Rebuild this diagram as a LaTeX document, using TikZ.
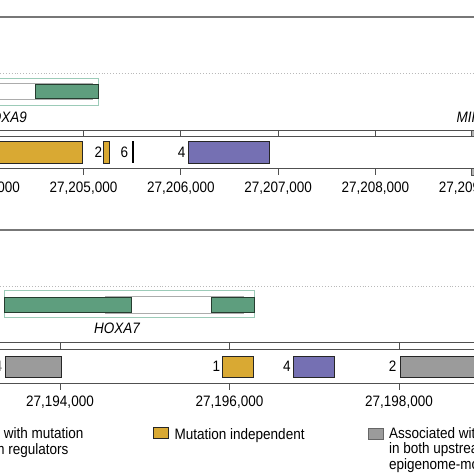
\documentclass[tikz,border=0pt]{standalone}
\usepackage{graphicx}
\usepackage{fontspec}
\setmainfont{Liberation Sans}
\newcommand{\vstretch}[1]{\scalebox{1}[1.12]{#1}}
\definecolor{gfill}{HTML}{5E9E7E}
\definecolor{gline}{HTML}{263D30}
\definecolor{gouter}{HTML}{9CCBB8}
\definecolor{yfill}{HTML}{D9A933}
\definecolor{pfill}{HTML}{7570B3}
\definecolor{grfill}{HTML}{9B9B9B}
\definecolor{trk}{HTML}{505050}
\definecolor{frame}{HTML}{777777}
\begin{document}
\begin{tikzpicture}[x=1pt,y=-1pt,
  lbl/.style={font=\fontsize{13.5}{16}\selectfont, inner sep=0pt, text=black},
  ilbl/.style={lbl, font=\fontsize{13.5}{16}\selectfont\itshape},
  boxed/.style={draw=black!85, line width=0.9pt},
  trackline/.style={draw=trk, line width=0.9pt},
  tickline/.style={draw=trk, line width=0.9pt},
  frameline/.style={draw=frame, line width=1.3pt},
  dotline/.style={draw=gray!55, dotted, line width=0.9pt},
  geneouter/.style={draw=gouter, line width=0.9pt},
  utr/.style={draw=gray!65, fill=white, line width=0.9pt},
  exon/.style={draw=gline, fill=gfill, line width=0.9pt}]
\useasboundingbox (0,0) rectangle (474,474);
\clip (0,0) rectangle (474,474);

% ---------- top panel ----------
\draw[frameline] (0,17) -- (474,17);
\draw[frameline] (0,230) -- (474,230);
\draw[dotline] (0,73) -- (474,73);

% HOXA9 gene
\draw[geneouter] (-5,78) rectangle (98.5,105);
\draw[utr] (-5,83.5) rectangle (92,99.5);
\draw[exon] (35,84.5) rectangle (98,98.5);
\node[ilbl, anchor=base east] (hoxa9) at (27,122) {\vstretch{HOXA9}};
\node[ilbl, anchor=base west] (mir) at (456.5,122) {\vstretch{MIR196B}};

% track
\draw[trackline] (-2,130) -- (476,130);
\draw[trackline] (-2,136) -- (476,136);
\draw[trackline] (-2,168.5) -- (476,168.5);
\foreach \x/\t in {-14/27{,}204{,}000, 83.5/27{,}205{,}000, 180.8/27{,}206{,}000, 278.1/27{,}207{,}000, 375.4/27{,}208{,}000, 472.7/27{,}209{,}000}{
  \draw[tickline] (\x,130) -- (\x,136);
  \draw[tickline] (\x,168.5) -- (\x,175);
  \node[lbl, anchor=base] at (\x,192.5) {\vstretch{\t}};
}
\draw[draw=trk, fill=gray!60, line width=0.6pt] (471,130) rectangle (477,136);
\draw[draw=trk, fill=gray!60, line width=0.6pt] (471,168.5) rectangle (477,175);

\draw[boxed, fill=yfill] (-5,141) rectangle (82,163);
\node[lbl] (t2) at (98.3,152) {\vstretch{2}};
\draw[boxed, fill=yfill] (103,141) rectangle (109,163);
\node[lbl] (t6) at (124.4,152) {\vstretch{6}};
\draw[black, line width=1.8pt] (133.3,141) -- (133.3,163);
\node[lbl] (t4) at (181.7,152) {\vstretch{4}};
\draw[boxed, fill=pfill] (188,141) rectangle (269,163);

% ---------- bottom panel ----------
\draw[dotline] (0,286) -- (474,286);

% HOXA7 gene
\draw[geneouter] (4,290) rectangle (254.5,317.5);
\draw[utr] (105,296) rectangle (243,313);
\draw[exon] (4,297) rectangle (131,312);
\draw[exon] (211,297) rectangle (254,312);
\node[ilbl, anchor=base] (hoxa7) at (117,333.5) {\vstretch{HOXA7}};

% track
\draw[trackline] (-2,342) -- (476,342);
\draw[trackline] (-2,349) -- (476,349);
\draw[trackline] (-2,383) -- (476,383);
\foreach \x/\t in {60/27{,}194{,}000, 229.5/27{,}196{,}000, 399/27{,}198{,}000}{
  \draw[tickline] (\x,342) -- (\x,349);
  \draw[tickline] (\x,383) -- (\x,390);
  \node[lbl, anchor=base] at (\x,406.5) {\vstretch{\t}};
}
\node[lbl, anchor=east, text=gray] (b3) at (2.5,366.5) {\vstretch{4}};
\draw[boxed, fill=grfill] (5,356) rectangle (61,377);
\node[lbl] (b1) at (216.5,366.5) {\vstretch{1}};
\draw[boxed, fill=yfill] (222,356) rectangle (253,377);
\node[lbl] (b4) at (287,366.5) {\vstretch{4}};
\draw[boxed, fill=pfill] (293,356) rectangle (334,377);
\node[lbl] (b2) at (392.5,366.5) {\vstretch{2}};
\draw[boxed, fill=grfill] (400,356) rectangle (480,377);

% ---------- legend ----------
\node[lbl, anchor=base west] (lg1a) at (-66,438) {\vstretch{Associated with mutation}};
\node[lbl, anchor=base west] (lg1b) at (-66,454) {\vstretch{in upstream regulators}};

\draw[boxed, fill=yfill, line width=0.8pt] (153.3,427.3) rectangle (168.3,438.3);
\node[lbl, anchor=base west] (lg2) at (174.5,439) {\vstretch{Mutation independent}};

\draw[draw=gray!80!black, fill=grfill, line width=0.8pt] (368,428) rectangle (383,439);
\node[lbl, anchor=base west] (lg3a) at (389,438.3) {\vstretch{Associated with mutation}};
\node[lbl, anchor=base west] (lg3b) at (389,453.8) {\vstretch{in both upstream and}};
\node[lbl, anchor=base west] (lg3c) at (389,469.3) {\vstretch{epigenome-modification regulators}};
\end{tikzpicture}
\end{document}
